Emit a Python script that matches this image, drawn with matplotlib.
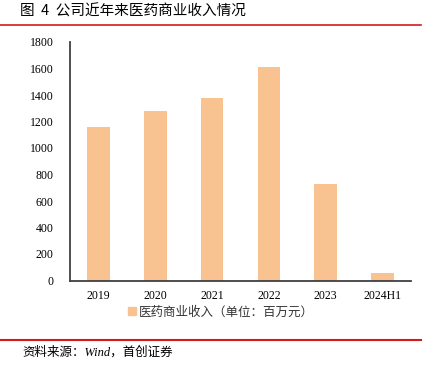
import matplotlib
matplotlib.use("Agg")
import matplotlib.pyplot as plt
from matplotlib.lines import Line2D

plt.rcParams['font.family'] = ['Noto Sans CJK SC', 'DejaVu Sans']

# data
years   = ["2019", "2020", "2021", "2022", "2023", "2024H1"]
revenue = [1156, 1277, 1375, 1615, 730, 57]
yticks  = [0, 200, 400, 600, 800, 1000, 1200, 1400, 1600, 1800]

BAR  = "#F8C291"
AXC  = "#404040"
RED  = "#D7191C"

fig = plt.figure(figsize=(4.35, 3.69), dpi=100)
ax = fig.add_axes([70/435, 1-280.5/369, 341/435, 238.5/369])

x = range(len(years))
ax.bar(x, revenue, width=0.4, color=BAR, zorder=2)
ax.set_xlim(-0.5, len(years) - 0.5)
ax.set_ylim(0, 1800)
ax.set_yticks(yticks)
ax.set_xticks(list(x))
ax.set_xticklabels(years)

for s in ["top", "right"]:
    ax.spines[s].set_visible(False)
for s in ["left", "bottom"]:
    ax.spines[s].set_color(AXC)
    ax.spines[s].set_linewidth(1.3)
ax.tick_params(length=0, labelsize=8.5)
ax.tick_params(axis="y", pad=12)
ax.tick_params(axis="x", pad=7)
for lab in ax.get_xticklabels() + ax.get_yticklabels():
    lab.set_family("Liberation Serif")

# legend
h = Line2D([], [], marker="s", ls="", color=BAR, markersize=5.5)
fig.legend([h], ["医药商业收入（单位：百万元）"], loc="center left",
           bbox_to_anchor=(116/435, 1-312/369), frameon=False,
           handlelength=0.8, handletextpad=0.1, fontsize=9,
           labelcolor="#333333")

# title + rules
fig.text(20/435, 1-12/369, "图  4  公司近年来医药商业收入情况", fontsize=10.5,
         va="center", ha="left")
fig.add_artist(Line2D([0, 421/435], [1-25/369, 1-25/369], color=RED, lw=1.2))
fig.add_artist(Line2D([0, 421/435], [1-340/369, 1-340/369], color=RED, lw=1.5))

fig.text(22/435, 1-352/369, "资料来源：Wind，首创证券", fontsize=9,
         va="center", ha="left", style="italic",
         family=["Liberation Serif", "Noto Sans CJK SC"])

fig.savefig("out.png", dpi=100)
